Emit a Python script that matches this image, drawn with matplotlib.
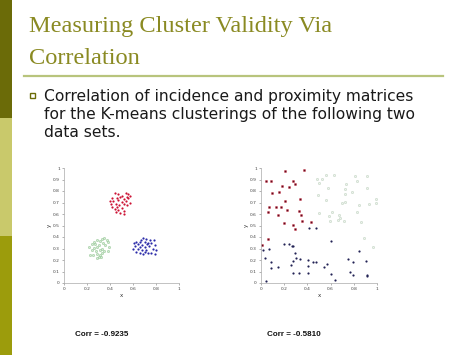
import matplotlib.pyplot as plt
from matplotlib.patches import Rectangle
from matplotlib.lines import Line2D

W, H = 474, 355

# Slide text
title_lines = ["Measuring Cluster Validity Via", "Correlation"]
bullet_lines = [
    "Correlation of incidence and proximity matrices",
    "for the K-means clusterings of the following two",
    "data sets.",
]
corr_labels = ["Corr = -0.9235", "Corr = -0.5810"]

# Left data set: three well separated clusters
red1_x = [0.44, 0.47, 0.50, 0.54, 0.56, 0.57, 0.55, 0.42, 0.46, 0.49, 0.52, 0.56,
          0.40, 0.43, 0.47, 0.50, 0.54, 0.57, 0.41, 0.45, 0.48, 0.52, 0.55, 0.42,
          0.46, 0.50, 0.44, 0.47, 0.52, 0.45, 0.49, 0.52]
red1_y = [0.78, 0.77, 0.76, 0.78, 0.77, 0.76, 0.75, 0.74, 0.74, 0.745, 0.73, 0.735,
          0.71, 0.715, 0.72, 0.705, 0.71, 0.70, 0.69, 0.69, 0.68, 0.69, 0.68, 0.665,
          0.66, 0.655, 0.64, 0.635, 0.63, 0.62, 0.61, 0.60]
green1_x = [0.35, 0.33, 0.37, 0.29, 0.31, 0.26, 0.34, 0.38, 0.24, 0.27, 0.30, 0.36,
            0.22, 0.26, 0.29, 0.33, 0.39, 0.24, 0.28, 0.31, 0.35, 0.38, 0.23, 0.25,
            0.29, 0.33, 0.30, 0.32, 0.29, 0.31]
green1_y = [0.39, 0.38, 0.375, 0.37, 0.365, 0.36, 0.35, 0.355, 0.34, 0.335, 0.33, 0.33,
            0.31, 0.305, 0.31, 0.30, 0.31, 0.29, 0.28, 0.285, 0.275, 0.28, 0.24, 0.245,
            0.25, 0.26, 0.23, 0.225, 0.22, 0.24]
blue1_x = [0.69, 0.71, 0.67, 0.75, 0.78, 0.63, 0.66, 0.70, 0.73, 0.61, 0.64, 0.76,
           0.68, 0.72, 0.79, 0.62, 0.66, 0.70, 0.74, 0.60, 0.64, 0.68, 0.71, 0.77,
           0.80, 0.63, 0.66, 0.70, 0.73, 0.76, 0.79, 0.69]
blue1_y = [0.39, 0.385, 0.375, 0.37, 0.37, 0.36, 0.355, 0.355, 0.35, 0.345, 0.34, 0.345,
           0.33, 0.335, 0.33, 0.32, 0.315, 0.31, 0.32, 0.30, 0.295, 0.29, 0.285, 0.30,
           0.29, 0.27, 0.265, 0.27, 0.265, 0.26, 0.255, 0.25]

# Right data set: uniformly scattered points
red2_x = [0.211, 0.373, 0.046, 0.084, 0.272, 0.185, 0.295, 0.243, 0.092, 0.156,
          0.335, 0.208, 0.072, 0.127, 0.173, 0.220, 0.058, 0.329, 0.347, 0.150,
          0.353, 0.202, 0.272, 0.289, 0.431, 0.058, 0.009]
red2_y = [0.977, 0.983, 0.890, 0.890, 0.890, 0.847, 0.858, 0.838, 0.786, 0.795,
          0.734, 0.711, 0.659, 0.665, 0.665, 0.636, 0.618, 0.627, 0.592, 0.590,
          0.543, 0.526, 0.506, 0.468, 0.529, 0.384, 0.327]
green2_x = [0.486, 0.526, 0.561, 0.633, 0.500, 0.581, 0.494, 0.558, 0.497, 0.584,
            0.613, 0.595, 0.676, 0.665, 0.679, 0.717, 0.734, 0.728, 0.728, 0.699,
            0.720, 0.783, 0.812, 0.827, 0.913, 0.913, 0.841, 0.827, 0.861, 0.928,
            0.994, 0.994, 0.884, 0.965]
green2_y = [0.905, 0.908, 0.939, 0.939, 0.873, 0.824, 0.766, 0.723, 0.607, 0.584,
            0.616, 0.540, 0.592, 0.549, 0.564, 0.535, 0.861, 0.818, 0.775, 0.694,
            0.702, 0.795, 0.934, 0.887, 0.931, 0.827, 0.676, 0.616, 0.532, 0.691,
            0.728, 0.694, 0.387, 0.312]
blue2_x = [0.413, 0.471, 0.017, 0.066, 0.038, 0.084, 0.084, 0.147, 0.197, 0.243,
           0.263, 0.275, 0.292, 0.301, 0.335, 0.277, 0.260, 0.272, 0.327, 0.402,
           0.408, 0.408, 0.445, 0.046, 0.607, 0.471, 0.546, 0.566, 0.604, 0.639,
           0.749, 0.763, 0.795, 0.795, 0.844, 0.908, 0.916, 0.913]
blue2_y = [0.477, 0.477, 0.289, 0.295, 0.214, 0.179, 0.130, 0.139, 0.335, 0.341,
           0.324, 0.321, 0.263, 0.220, 0.205, 0.191, 0.153, 0.084, 0.090, 0.090,
           0.147, 0.199, 0.179, 0.020, 0.367, 0.182, 0.142, 0.168, 0.081, 0.023,
           0.211, 0.092, 0.185, 0.069, 0.277, 0.194, 0.072, 0.058]


def fx(px):
    return px / W


def fy(py):
    return 1 - py / H


fig = plt.figure(figsize=(W / 100, H / 100), dpi=100)
fig.patch.set_facecolor("white")

# side bar
for y0, y1, c in [(0, 118, "#6b6b08"), (118, 236, "#c9c96b"), (236, 355, "#9c9c0c")]:
    fig.add_artist(Rectangle((0, fy(y1)), fx(11.5), (y1 - y0) / H,
                             transform=fig.transFigure, color=c, lw=0))

# title
for i, line in enumerate(title_lines):
    fig.text(fx(29), fy(32 + i * 32), line, fontsize=17.6, family="Liberation Serif",
             color="#8a8a22", va="baseline")
fig.add_artist(Line2D([fx(24), fx(443)], [fy(75.5), fy(75.5)], transform=fig.transFigure,
                      color="#b8c47c", lw=1.6))

# bullet
fig.add_artist(Rectangle((fx(29.5), fy(98)), fx(5), 5 / H, transform=fig.transFigure,
                         facecolor="none", edgecolor="#6b6b08", lw=1.0))
for i, line in enumerate(bullet_lines):
    fig.text(fx(44), fy(101 + i * 18), line, fontsize=11.2, family="DejaVu Sans",
             color="#1a1a1a", va="baseline")


def style_axes(ax):
    ax.set_xlim(0, 1)
    ax.set_ylim(0, 1)
    ax.set_xticks([0, 0.2, 0.4, 0.6, 0.8, 1])
    ax.set_xticklabels(["0", "0.2", "0.4", "0.6", "0.8", "1"])
    ax.set_yticks([i / 10 for i in range(11)])
    ax.set_yticklabels(["0"] + ["0.%d" % i for i in range(1, 10)] + ["1"])
    ax.tick_params(labelsize=3.2, length=1.5, width=0.4, pad=1.5, colors="#777777",
                   labelcolor="#444444")
    for s in ["top", "right"]:
        ax.spines[s].set_visible(False)
    for s in ["left", "bottom"]:
        ax.spines[s].set_color("#aaaaaa")
        ax.spines[s].set_linewidth(0.5)
    ax.set_xlabel("x", fontsize=4, labelpad=1.5, color="#333333")
    ax.set_ylabel("y", fontsize=4, labelpad=0.5, color="#333333")


ax1 = fig.add_axes([fx(64), fy(283), fx(179) - fx(64), (283 - 168) / H])
ax1.scatter(red1_x, red1_y, s=2.5, color="#cc1133", lw=0)
ax1.scatter(green1_x, green1_y, s=2.5, facecolor="#d8ecd8", edgecolor="#88c088", lw=0.35)
ax1.scatter(blue1_x, blue1_y, s=2.5, color="#2a2aa8", lw=0)
style_axes(ax1)

ax2 = fig.add_axes([fx(261), fy(283), fx(377) - fx(261), (283 - 168) / H])
ax2.scatter(red2_x, red2_y, s=3, facecolor="#551122", edgecolor="#e06070", lw=0.4)
ax2.scatter(green2_x, green2_y, s=2.5, facecolor="#eef4ee", edgecolor="#b8ccb8", lw=0.35)
ax2.scatter(blue2_x, blue2_y, s=2.5, color="#222255", lw=0)
style_axes(ax2)

for x0, label in zip([75, 267], corr_labels):
    fig.text(fx(x0), fy(336), label, fontsize=5.8, family="Liberation Sans",
             weight="bold", color="#111111", va="baseline")

fig.savefig("out.png", dpi=100)
